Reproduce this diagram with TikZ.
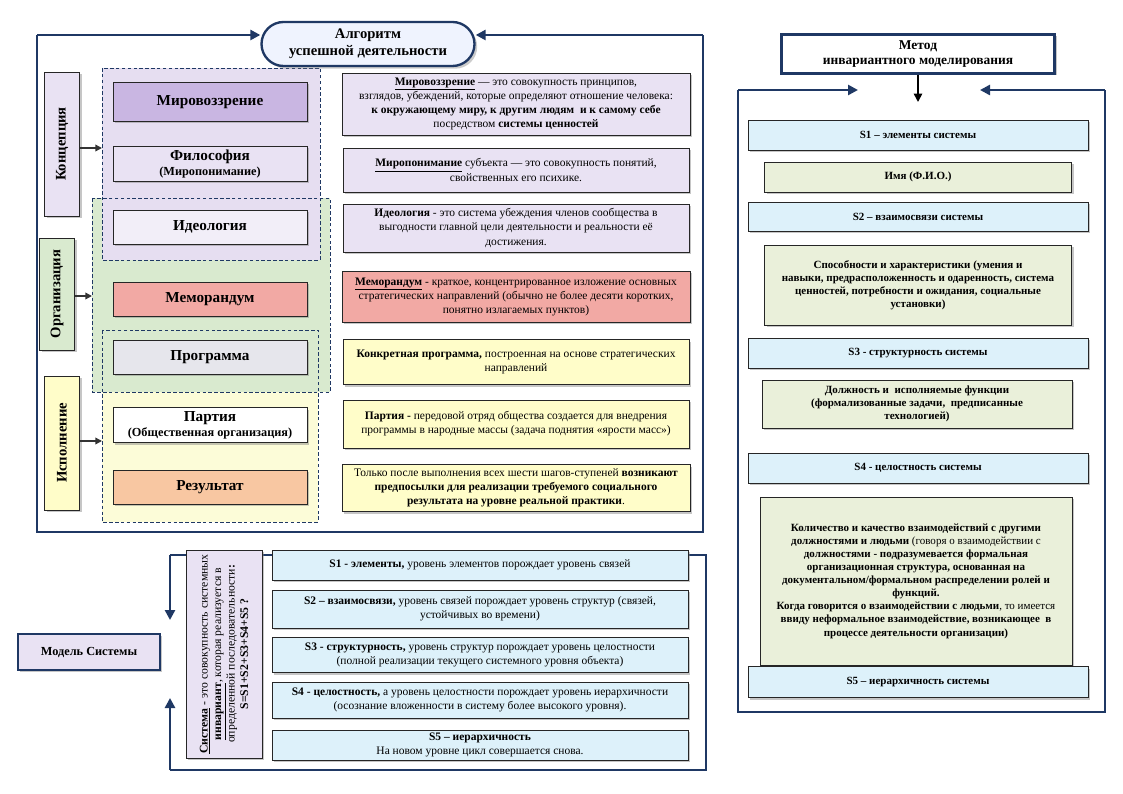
\documentclass[tikz,border=0pt]{standalone}
\usepackage{fontspec}
\setmainfont{Liberation Serif}
\usetikzlibrary{arrows.meta,shadows}
\definecolor{navy}{HTML}{1F3864}
\definecolor{lavA}{HTML}{C9B6E2}
\definecolor{lavB}{HTML}{E9E2F3}
\definecolor{pinkA}{HTML}{F2A9A4}
\definecolor{greyA}{HTML}{E6E6EC}
\definecolor{peachA}{HTML}{F8C7A2}
\definecolor{yelA}{HTML}{FFFDC9}
\definecolor{blueA}{HTML}{DDF1FA}
\definecolor{greenA}{HTML}{EAF0DA}
\definecolor{regLav}{HTML}{E6DEF1}
\definecolor{regGreen}{HTML}{D9EACF}
\definecolor{regYel}{HTML}{FCFCD8}
\def\u{0.03cm}
\newcommand{\ul}[1]{\underline{#1}}
\tikzset{
  box/.style={draw=black!85, line width=0.8pt, drop shadow={opacity=0.45, shadow xshift=0.6mm, shadow yshift=-0.6mm}, align=center, inner sep=2pt},
  stage/.style={box, font=\fontsize{13}{14.5}\selectfont\bfseries},
  descr/.style={box, font=\fontsize{9.8}{12}\selectfont},
  side/.style={box, rotate=90, font=\fontsize{12.5}{14}\selectfont\bfseries},
  sbox/.style={box, fill=blueA, font=\fontsize{9.8}{12}\selectfont},
  rbox/.style={box, font=\fontsize{9.4}{11.2}\selectfont\bfseries},
  region/.style={draw=navy, densely dashed, line width=0.7pt},
  frame/.style={draw=navy, line width=2.4pt},
  arr/.style={-{Triangle[length=3mm,width=3mm]}, navy, line width=2.4pt},
  sarr/.style={-{Triangle[length=2mm,width=2mm]}, black!80, line width=1.2pt},
}
\begin{document}
\begin{tikzpicture}[x=\u, y=-\u]
\useasboundingbox (0,0) rectangle (1123,794);
% regions
\fill[regYel] (102,330) rectangle (318,522);
\fill[regGreen] (92,198) rectangle (330,392);
\fill[regLav] (102,68) rectangle (320,260);
\draw[region] (102,330) rectangle (318,522);
\draw[region] (92,198) rectangle (330,392);
\draw[region] (102,68) rectangle (320,260);
% main frame
\coordinate (tl) at (37,35);
\coordinate (tr) at (703,35);
\draw[frame] (37,35) -- (37,532) -- (703,532) -- (703,35);
\node[draw=navy, line width=2pt, fill=blueA!80!blue!20, rounded corners=22*\u, minimum width=213*\u, minimum height=44*\u, align=center, font=\fontsize{12.5}{14.5}\selectfont\bfseries, drop shadow={opacity=0.4}] (alg) at (368,44) {Алгоритм\\успешной деятельности};
\draw[arr] (tl) -- (alg.west |- tl);
\draw[arr] (tr) -- (alg.east |- tr);
% side labels
\node[side, fill=lavB, minimum width=144*\u, minimum height=35*\u] (konc) at (62,144) {Концепция};
\node[side, fill=regGreen, minimum width=112*\u, minimum height=35*\u] (org) at (57,294) {Организация};
\node[side, fill=yelA, minimum width=134*\u, minimum height=35*\u] (isp) at (62,443) {Исполнение};
\coordinate (konc-in) at (102,148);
\coordinate (org-in) at (92,296);
\coordinate (isp-in) at (102,441);
\draw[sarr] (konc.south |- konc-in) -- (konc-in);
\draw[sarr] (org.south |- org-in) -- (org-in);
\draw[sarr] (isp.south |- isp-in) -- (isp-in);
% stages
\node[stage, fill=lavA, minimum width=194*\u, minimum height=39*\u] (mir) at (210,102) {Мировоззрение};
\node[stage, fill=lavB, minimum width=194*\u, minimum height=35*\u] (fil) at (210,164) {Философия\\[-2pt]{\fontsize{10.5}{12}\selectfont(Миропонимание)}};
\node[stage, fill=lavB!60!white, minimum width=194*\u, minimum height=34*\u] (ide) at (210,227) {Идеология};
\node[stage, fill=pinkA, minimum width=194*\u, minimum height=34*\u] (mem) at (210,299) {Меморандум};
\node[stage, fill=greyA, minimum width=194*\u, minimum height=34*\u] (prg) at (210,357) {Программа};
\node[stage, fill=white, minimum width=194*\u, minimum height=35*\u] (par) at (210,425) {Партия\\[-2pt]{\fontsize{10.5}{12}\selectfont(Общественная организация)}};
\node[stage, fill=peachA, minimum width=194*\u, minimum height=34*\u] (res) at (210,487) {Результат};
% descriptions
\node[descr, fill=lavB, minimum width=348*\u, minimum height=62*\u] (d1) at (516,104) {\ul{\textbf{Мировоззрение}} — это совокупность принципов,\\взглядов, убеждений, которые определяют отношение человека:\\\textbf{к окружающему миру, к другим людям \ и к самому себе}\\посредством \textbf{системы ценностей}};
\node[descr, fill=lavB, minimum width=346*\u, minimum height=44*\u] (d2) at (516,170) {\ul{\textbf{Миропонимание}} субъекта — это совокупность понятий,\\свойственных его психике.};
\node[descr, fill=lavB, minimum width=346*\u, minimum height=48*\u] (d3) at (516,228) {\textbf{Идеология} - это система убеждения членов сообщества в\\выгодности главной цели деятельности и реальности её\\достижения.};
\node[descr, fill=pinkA, minimum width=348*\u, minimum height=51*\u] (d4) at (516,297) {\ul{\textbf{Меморандум}} - краткое, концентрированное изложение основных\\стратегических направлений (обычно не более десяти коротких,\\понятно излагаемых пунктов)};
\node[descr, fill=yelA, minimum width=346*\u, minimum height=45*\u] (d5) at (516,362) {\textbf{Конкретная программа,} построенная на основе стратегических\\направлений};
\node[descr, fill=yelA, minimum width=346*\u, minimum height=48*\u] (d6) at (516,424) {\textbf{Партия -} передовой отряд общества создается для внедрения\\программы в народные массы (задача поднятия «ярости масс»)};
\node[descr, fill=yelA, minimum width=348*\u, minimum height=47*\u] (d7) at (516,488) {Только после выполнения всех шести шагов-ступеней \textbf{возникают}\\\textbf{предпосылки для реализации требуемого социального}\\\textbf{результата на уровне реальной практики}.};
% model of the system
\coordinate (bt) at (170,555);
\coordinate (bb) at (170,770);
\draw[frame] (170,555) -- (706,555) -- (706,770) -- (170,770);
\node[box, fill=lavB, line width=1.6pt, draw=navy, minimum width=142*\u, minimum height=36*\u, font=\fontsize{10.5}{12}\selectfont\bfseries] (mod) at (89,652) {Модель Системы};
\draw[arr] (bt) -- (170,620);
\draw[arr] (bb) -- (170,698);
\node[box, fill=lavB, rotate=90, minimum width=208*\u, minimum height=76*\u, font=\fontsize{10}{11.5}\selectfont] (sys) at (224,654) {\ul{\textbf{Система}} - это совокупность системных\\\ul{\textbf{инвариант}}, которая реализуется в\\определенной последовательности\textbf{:}\\\textbf{S=S1+S2+S3+S4+S5 ?}};
\node[sbox, minimum width=416*\u, minimum height=30*\u] (s1) at (480,565) {\textbf{S1 - элементы,} уровень элементов порождает уровень связей};
\node[sbox, minimum width=416*\u, minimum height=38*\u] (s2) at (480,609) {\textbf{S2 – взаимосвязи,} уровень связей порождает уровень структур (связей,\\устойчивых во времени)};
\node[sbox, minimum width=416*\u, minimum height=35*\u] (s3) at (480,655) {\textbf{S3 - структурность,} уровень структур порождает уровень целостности\\(полной реализации текущего системного уровня объекта)};
\node[sbox, minimum width=416*\u, minimum height=36*\u] (s4) at (480,700) {\textbf{S4 - целостность,} а уровень целостности порождает уровень иерархичности\\(осознание вложенности в систему более высокого уровня).};
\node[sbox, minimum width=416*\u, minimum height=30*\u] (s5) at (480,745) {\textbf{S5 – иерархичность}\\На новом уровне цикл совершается снова.};
% invariant modelling
\node[box, fill=white, draw=navy, line width=1.8pt, minimum width=273*\u, minimum height=39*\u, font=\fontsize{11.5}{13}\selectfont\bfseries] (met) at (918,54) {Метод\\инвариантного моделирования};
\coordinate (ml) at (738,90);
\coordinate (mr) at (1105,90);
\coordinate (mdown) at (918,102);
\draw[frame] (738,90) -- (738,712) -- (1105,712) -- (1105,90);
\draw[arr] (ml) -- (858,90);
\draw[arr] (mr) -- (980,90);
\draw[-{Triangle[length=2.5mm,width=2.5mm]}, line width=1.4pt] (met) -- (mdown);
\node[rbox, fill=blueA, minimum width=340*\u, minimum height=30*\u] (r1) at (918,135) {S1 – элементы системы};
\node[rbox, fill=greenA, minimum width=307*\u, minimum height=30*\u] (r2) at (918,177) {Имя (Ф.И.О.)};
\node[rbox, fill=blueA, minimum width=340*\u, minimum height=29*\u] (r3) at (918,217) {S2 – взаимосвязи системы};
\node[rbox, fill=greenA, minimum width=307*\u, minimum height=80*\u] (r4) at (918,285) {Способности и характеристики (умения и\\навыки, предрасположенность и одаренность, система\\ценностей, потребности и ожидания, социальные\\установки)};
\node[rbox, fill=blueA, minimum width=340*\u, minimum height=30*\u] (r5) at (918,353) {S3 - структурность системы};
\node[rbox, fill=greenA, minimum width=310*\u, minimum height=48*\u] (r6) at (917,404) {Должность и \ исполняемые функции\\(формализованные задачи, \ предписанные\\технологией)};
\node[rbox, fill=blueA, minimum width=340*\u, minimum height=30*\u] (r7) at (918,468) {S4 - целостность системы};
\node[rbox, fill=greenA, minimum width=312*\u, minimum height=168*\u] (r8) at (916,581) {Количество и качество взаимодействий с другими\\должностями и людьми \mdseries(говоря о взаимодействии с\\должностями - подразумевается формальная\\организационная структура, основанная на\\документальном/формальном распределении ролей и\\функций.\\\bfseries Когда говорится о взаимодействии с людьми\mdseries, то имеется\\ввиду неформальное взаимодействие, возникающее \ в\\процессе деятельности организации)};
\node[rbox, fill=blueA, minimum width=340*\u, minimum height=31*\u] (r9) at (918,682) {S5 – иерархичность системы};
\end{tikzpicture}
\end{document}
